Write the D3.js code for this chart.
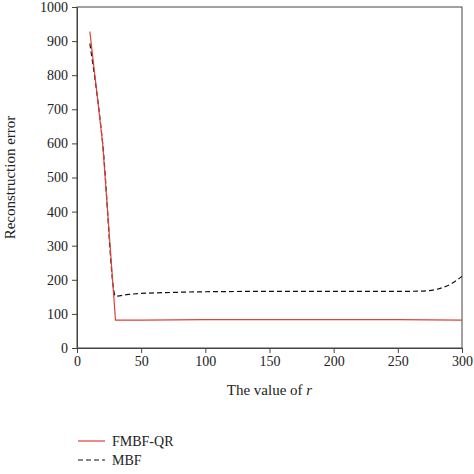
<!DOCTYPE html><html><head><script src="https://cdn.jsdelivr.net/npm/d3@7"></script>
<style>body{margin:0;background:#fff}text{font-family:"Liberation Serif",serif;fill:#222}</style></head><body><svg width="474" height="474"></svg>
<script>
const rFmbf=[10,20,30,50,100,150,200,250,300];
const vFmbf=[928,600,82,82,83,83,83,83,82];
const rMbf=[10,20,30,40,50,75,100,150,200,250,270,280,290,300];
const vMbf=[893,600,152,157,160,163,165,166,166,166,167,172,185,210];
const xTicks=[0,50,100,150,200,250,300];
const yTicks=[0,100,200,300,400,500,600,700,800,900,1000];
const svg=d3.select("svg");
const L=77,R=462,T=7,B=348;
const x=d3.scaleLinear().domain([0,300]).range([L,R]);
const y=d3.scaleLinear().domain([0,1000]).range([B,T]);
svg.append("rect").attr("x",L).attr("y",T).attr("width",R-L).attr("height",B-T).attr("fill","none").attr("stroke","#444");
const gx=svg.append("g").attr("transform",`translate(0,${B})`).call(d3.axisBottom(x).tickValues(xTicks).tickFormat(d3.format("d")).tickSize(5).tickSizeOuter(0));
const gy=svg.append("g").attr("transform",`translate(${L},0)`).call(d3.axisLeft(y).tickValues(yTicks).tickFormat(d3.format("d")).tickSize(5).tickSizeOuter(0));
[gx,gy].forEach(g=>{g.attr("font-family","Liberation Serif, serif").attr("font-size",14);g.selectAll("text").style("font-size","14px").attr("fill","#222");g.selectAll("line,path").attr("stroke","#444");});
gy.selectAll("text").attr("dx","-1");
const line=d3.line().x(d=>x(d[0])).y(d=>y(d[1]));
svg.append("path").datum(rMbf.map((r,i)=>[r,vMbf[i]])).attr("d",line.curve(d3.curveMonotoneX)).attr("fill","none").attr("stroke","#111").attr("stroke-width",1.2).attr("stroke-dasharray","5,3");
svg.append("path").datum(rFmbf.map((r,i)=>[r,vFmbf[i]])).attr("d",d3.line().x(d=>x(d[0])).y(d=>y(d[1]))).attr("fill","none").attr("stroke","#e0403a").attr("stroke-width",1.2);
svg.append("text").attr("x",(L+R)/2).attr("y",395).attr("text-anchor","middle").style("font-size","15px").html('The value of <tspan font-style="italic">r</tspan>');
svg.append("text").attr("transform",`translate(15,${(T+B)/2}) rotate(-90)`).attr("text-anchor","middle").style("font-size","15px").text("Reconstruction error");
const leg=[["FMBF-QR","#e0403a",null],["MBF","#111","5,3"]];
leg.forEach((d,i)=>{const yy=441+i*19;
svg.append("line").attr("x1",78).attr("x2",105).attr("y1",yy).attr("y2",yy).attr("stroke",d[1]).attr("stroke-width",1.2).attr("stroke-dasharray",d[2]);
svg.append("text").attr("x",112).attr("y",yy+5).style("font-size","14px").text(d[0]);});
</script></body></html>
